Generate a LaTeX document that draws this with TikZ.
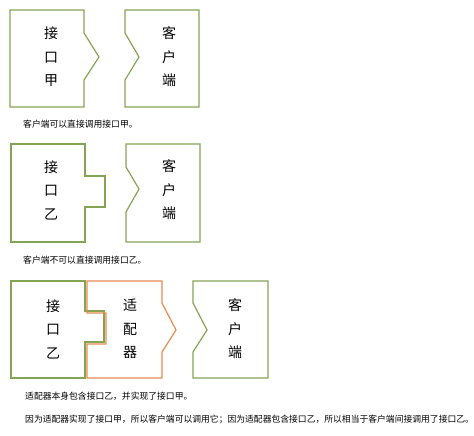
\documentclass[tikz,border=0pt]{standalone}
\usepackage{fontspec}
\newfontfamily\cjk{Noto Sans CJK SC}
\definecolor{boxgreen}{RGB}{132,164,84}
\definecolor{boxorange}{RGB}{230,140,80}
\tikzset{
  greenbox/.style={draw=boxgreen,line width=1.2pt,line join=miter},
  orangebox/.style={draw=boxorange,line width=1.2pt,line join=miter},
  boxlabel/.style={align=center,inner sep=0pt,font=\cjk\fontsize{14}{23.5}\selectfont},
  caption/.style={anchor=west,inner sep=0pt,font=\cjk\fontsize{8.8}{10}\selectfont}
}
\begin{document}
\begin{tikzpicture}[x=1pt,y=-1pt]
      \useasboundingbox (0,0) rectangle (474,436);
      % row 1
      \draw[greenbox] (10,10) -- (84,10) -- (84,33) -- (99,57) -- (84,80)
        -- (84,107) -- (10,107) -- cycle;
      \draw[greenbox] (125,10) -- (199,10) -- (199,107) -- (125,107)
        -- (125,80) -- (139,57) -- (125,33) -- cycle;
      \node[boxlabel] (jiekoujia) at (51,57) {接\\口\\甲};
      \node[boxlabel] (kehuduan1) at (169,57) {客\\户\\端};
      \node[caption] (cap1) at (23,124) {客户端可以直接调用接口甲。};
      % row 2
      \draw[greenbox] (11,144) -- (85,144) -- (85,176) -- (105,176) -- (105,207)
        -- (85,207) -- (85,242) -- (11,242) -- cycle;
      \draw[greenbox] (126,144) -- (200,144) -- (200,242) -- (126,242)
        -- (126,212) -- (139,189) -- (126,167) -- cycle;
      \node[boxlabel] (jiekouyi1) at (51,190) {接\\口\\乙};
      \node[boxlabel] (kehuduan2) at (169,190) {客\\户\\端};
      \node[caption] (cap2) at (23,260) {客户端不可以直接调用接口乙。};
      % row 3
      \draw[greenbox] (11,281) -- (85,281) -- (85,311) -- (104,311) -- (104,342)
        -- (85,342) -- (85,378) -- (11,378) -- cycle;
      \draw[orangebox] (87,281) -- (162,281) -- (162,303) -- (176,330) -- (162,352)
        -- (162,378) -- (87,378) -- (87,344) -- (106,344) -- (106,313) -- (87,313) -- cycle;
      \draw[greenbox] (193,281) -- (268,281) -- (268,378) -- (193,378)
        -- (193,352) -- (207,330) -- (193,303) -- cycle;
      \node[boxlabel] (jiekouyi2) at (53,329) {接\\口\\乙};
      \node[boxlabel] (shipeiqi) at (130,329) {适\\配\\器};
      \node[boxlabel] (kehuduan3) at (235,329) {客\\户\\端};
      \node[caption] (cap3) at (25,396) {适配器本身包含接口乙，并实现了接口甲。};
      \node[caption] (cap4) at (25,419) {因为适配器实现了接口甲，所以客户端可以调用它；因为适配器包含接口乙，所以相当于客户端间接调用了接口乙。};
    \end{tikzpicture}
\end{document}
